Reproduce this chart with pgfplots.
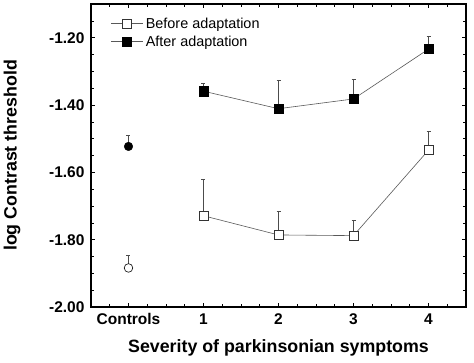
\documentclass[border=0pt]{standalone}
\usepackage{pgfplots}
\pgfplotsset{compat=1.18}
\usepackage{fontspec}
\setmainfont{Liberation Sans}
\begin{document}
\begin{tikzpicture}
\begin{axis}[
  at={(0,0)}, anchor=south west,
  scale only axis, width=375pt, height=303pt,
  xmin=-0.5, xmax=4.5, ymin=-2.0, ymax=-1.1,
  xtick={0,1,2,3,4}, xticklabels={Controls,1,2,3,4},
  ytick={-2,-1.8,-1.6,-1.4,-1.2},
  yticklabels={-2.00,-1.80,-1.60,-1.40,-1.20},
  minor xtick={-0.25,0.25,0.5,0.75,1.25,1.5,1.75,2.25,2.5,2.75,3.25,3.5,3.75,4.25},
  minor ytick={-1.95,-1.9,-1.85,-1.75,-1.7,-1.65,-1.55,-1.5,-1.45,-1.35,-1.3,-1.25,-1.15},
  tick align=inside, major tick length=4pt, minor tick length=3pt,
  tick style={black, line width=0.6pt},
  axis line style={line width=1.6pt},
  ticklabel style={font=\fontsize{15.5}{17}\selectfont\bfseries},
  xticklabel style={yshift=-3pt},
  yticklabel style={xshift=-3pt},
  xlabel={Severity of parkinsonian symptoms},
  ylabel={log Contrast threshold},
  label style={font=\fontsize{17.8}{20}\selectfont\bfseries},
  xlabel style={at={(0.5,0)}, anchor=center, yshift=-41pt},
  ylabel style={at={(0,0.5)}, anchor=center, rotate=0, yshift=79pt},
  legend style={draw=none, fill=none, at={(0.05,0.965)}, anchor=north west,
    font=\fontsize{14.4}{16}\selectfont, row sep=2pt, inner sep=1pt,
    nodes={inner xsep=3pt}},
  legend cell align=left,
  legend image code/.code={
    \draw[#1, mark repeat=2, mark phase=2] plot coordinates {(0cm,0cm) (0.55cm,0cm) (1.1cm,0cm)};},
  clip=false,
]
\addplot[gray!70!black, line width=0.6pt, mark=square*, mark size=4.6pt,
  mark options={fill=white, draw=gray!40!black, line width=0.6pt, solid},
  error bars/.cd, y dir=plus, y explicit, error mark options={rotate=90, mark size=2pt, line width=0.4pt, gray!60!black},
  error bar style={line width=0.6pt, gray!60!black}]
  coordinates {(1,-1.729) +- (0,0.109) (2,-1.786) +- (0,0.071) (3,-1.788) +- (0,0.045) (4,-1.534) +- (0,0.056)};
\addlegendentry{Before adaptation}
\addplot[gray!70!black, line width=0.6pt, mark=square*, mark size=4.6pt,
  mark options={fill=black, draw=black, solid},
  error bars/.cd, y dir=plus, y explicit, error mark options={rotate=90, mark size=2pt, line width=0.4pt, gray!60!black},
  error bar style={line width=0.6pt, gray!60!black}]
  coordinates {(1,-1.359) +- (0,0.024) (2,-1.411) +- (0,0.084) (3,-1.382) +- (0,0.058) (4,-1.234) +- (0,0.037)};
\addlegendentry{After adaptation}
\addplot[forget plot, only marks, mark=*, mark size=4.3pt, mark options={fill=white, draw=black, line width=0.6pt},
  error bars/.cd, y dir=plus, y explicit, error mark options={rotate=90, mark size=2pt, line width=0.4pt, gray!60!black},
  error bar style={line width=0.6pt, gray!60!black}]
  coordinates {(0,-1.884) +- (0,0.039)};
\addplot[forget plot, only marks, mark=*, mark size=4.3pt, mark options={fill=black, draw=black},
  error bars/.cd, y dir=plus, y explicit, error mark options={rotate=90, mark size=2pt, line width=0.4pt, gray!60!black},
  error bar style={line width=0.6pt, gray!60!black}]
  coordinates {(0,-1.523) +- (0,0.034)};
\end{axis}
\pgfresetboundingbox
\path (-91pt,-55pt) rectangle (383pt,307pt);
\end{tikzpicture}
\end{document}
